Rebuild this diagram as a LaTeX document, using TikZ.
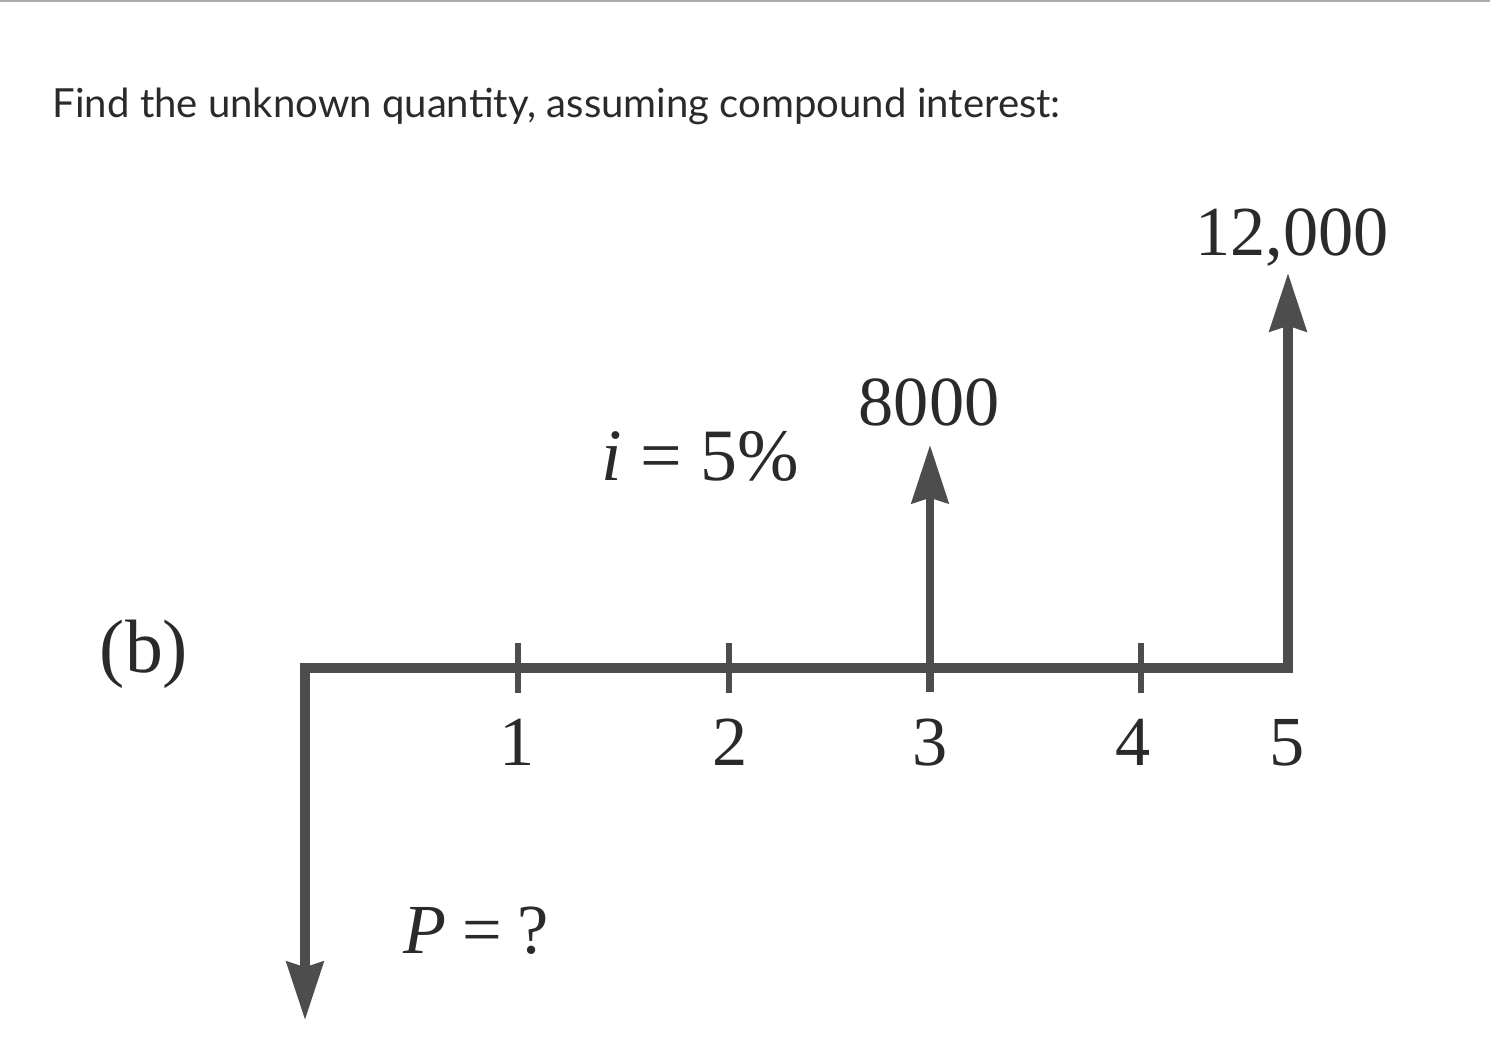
\documentclass[tikz,border=0pt]{standalone}
\usepackage{fontspec}
\setmainfont{Liberation Serif}
\newfontfamily\titlefont{Lato}
\usetikzlibrary{arrows.meta}
\definecolor{flowgray}{HTML}{4D4D4D}
\definecolor{textgray}{HTML}{2A2A2A}
\definecolor{rulegray}{HTML}{ABABAB}
\tikzset{
    flow/.style = {flowgray, line width = 2.6pt, line join = miter,
        Stealth-Stealth, >={Stealth[length = 16.5pt, width = 10.4pt, inset = 1.5pt]}},
    tick/.style = {flowgray, line width = 1.6pt},
    lbl/.style = {textgray, font = \fontsize{20}{24}\selectfont, anchor = base, inner sep = 0pt}
}
\begin{document}
\begin{tikzpicture}[x = 0.01cm, y = -0.01cm]
            \useasboundingbox (0, 0) rectangle (1490, 1060);
            \draw[rulegray, line width = 0.6pt] (0, 1) -- (1490, 1);
            \node[anchor = base west, inner sep = 0pt, textgray, font = \titlefont\fontsize{11.4}{14}\selectfont] (title) at (52, 117)
                {Find the unknown quantity, assuming compound interest:};
            \node[lbl, font = \fontsize{21.5}{26}\selectfont] (part) at (144, 672) {(b)};
            % cash flow line
            \coordinate (p0) at (305, 1020);
            \coordinate (t0) at (305, 668);
            \coordinate (t5) at (1288, 668);
            \coordinate (f5) at (1288, 273);
            \draw[flow, <->] (p0) -- (t0) -- (t5) -- (f5);
            \foreach \n/\x in {1/518, 2/729, 4/1141} {
                \draw[tick] (\x, 643) coordinate (up\n) -- (\x, 693) coordinate (dn\n);
            }
            \coordinate (t3) at (930, 692);
            \coordinate (f3) at (930, 445);
            \draw[flow, line width = 2.4pt, ->] (t3) -- (f3);
            \foreach \n/\x in {1/517, 2/730, 3/930, 4/1133, 5/1287} {
                \node[lbl] (yr\n) at (\x, 765) {\n};
            }
            \node[lbl] (amt3) at (929, 425) {8000};
            \node[lbl] (amt5) at (1292, 255) {12,000};
            \node[lbl, font = \fontsize{21}{25}\selectfont] (rate) at (700, 480) {\textit{i}\hspace{0.25em}=\hspace{0.25em}5\%};
            \node[lbl] (pv) at (476, 953) {\textit{P}\hspace{0.22em}=\hspace{0.22em}?};
        \end{tikzpicture}
\end{document}
